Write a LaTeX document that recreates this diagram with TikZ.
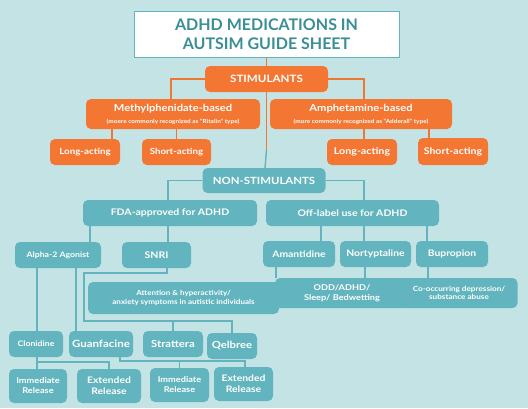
\documentclass[tikz,border=0pt]{standalone}
\usepackage{fontspec}
\setmainfont{Lato}
\newfontfamily\widefont{Lato}[FakeStretch=1.15, Ligatures=TeX]
\usetikzlibrary{positioning}
\definecolor{bgteal}{HTML}{C3E3E5}
\definecolor{orng}{HTML}{F47633}
\definecolor{tealbox}{HTML}{62B5BE}
\definecolor{titleteal}{HTML}{3A8E96}
\tikzstyle{obox} = [fill=orng, text=white, rounded corners=5pt, align=center, inner sep=0pt]
\tikzstyle{tbox} = [fill=tealbox, text=white, rounded corners=5pt, align=center, inner sep=0pt]
\tikzstyle{oline} = [draw=orng!90!brown, line width=1.4pt]
\tikzstyle{tline} = [draw=tealbox, line width=1.4pt]
\newcommand{\fsz}[1]{\widefont\fontsize{#1}{#1}\selectfont\bfseries}
\newcommand{\fsl}[2]{\widefont\fontsize{#1}{#2}\selectfont\bfseries}

\begin{document}
\begin{tikzpicture}[x=1pt, y=-1pt]
  \fill[bgteal] (0,0) rectangle (528,408);
  % title and stimulants
  \node[draw=tealbox, line width=1pt, fill=white, text=titleteal, align=center,
        minimum width=265pt, minimum height=46pt, font=\fontsize{16}{19}\selectfont\bfseries] (title) at (266.5,34) {ADHD MEDICATIONS IN\\AUTSIM GUIDE SHEET};
  \node[obox, minimum width=123pt, minimum height=26pt, font=\fsz{10.1}] (stim) at (266.5,79) {STIMULANTS};
  \node[obox, minimum width=174pt, minimum height=30pt] (methyl) at (173,114) {\fsz{9.7}Methylphenidate-based\\[0pt]\fsz{5.6}(moere commonly recognized as “Ritalin” type)};
  \node[obox, minimum width=182pt, minimum height=30pt] (amph) at (361,114) {\fsz{9.7}Amphetamine-based\\[0pt]\fsz{5.6}(more commonly recognized as “Adderall” type)};
  \node[obox, minimum width=70pt, minimum height=26pt, font=\fsz{8.5}] (longl) at (85,152) {Long-acting};
  \node[obox, minimum width=69pt, minimum height=26pt, font=\fsz{8.4}] (shortl) at (176.5,152) {Short-acting};
  \node[obox, minimum width=70pt, minimum height=26pt, font=\fsz{9.3}] (longr) at (362,152) {Long-acting};
  \node[obox, minimum width=70pt, minimum height=27pt, font=\fsz{9.2}] (shortr) at (453,151.5) {Short-acting};
  % non-stimulants
  \node[tbox, minimum width=123pt, minimum height=25pt, font=\fsz{9.9}] (nonstim) at (264,180.5) {NON-STIMULANTS};
  \node[tbox, minimum width=174pt, minimum height=26pt, font=\fsz{9.1}] (fda) at (170,213) {FDA-approved for ADHD};
  \node[tbox, minimum width=173pt, minimum height=26pt, font=\fsz{9.1}] (offlabel) at (352.5,213) {Off-label use for ADHD};
  \node[tbox, minimum width=86pt, minimum height=26pt, font=\fsz{7.6}] (alpha) at (58,255) {Alpha-2 Agonist};
  \node[tbox, minimum width=69pt, minimum height=26pt, font=\fsz{9.2}] (snri) at (156.5,255) {SNRI};
  \node[tbox, minimum width=72pt, minimum height=26pt, font=\fsz{9}] (amant) at (299,254) {Amantidine};
  \node[tbox, minimum width=71pt, minimum height=26pt, font=\fsz{9}] (nort) at (375.5,254) {Nortyptaline};
  \node[tbox, minimum width=72pt, minimum height=26pt, font=\fsz{9}] (bup) at (452,254) {Bupropion};
  \node[tbox, minimum width=134pt, minimum height=30pt, font=\fsl{8}{9.5}] (odd) at (342,293) {ODD/ADHD/\\Sleep/ Bedwetting};
  \node[tbox, minimum width=117pt, minimum height=30pt, font=\fsl{7.1}{8.5}] (cooc) at (459,293) {Co-occurring depression/\\substance abuse};
  \node[tbox, minimum width=191pt, minimum height=32pt, font=\fsl{7}{9.5}] (attn) at (183.5,298) {Attention \& hyperactivity/\\anxiety symptoms in autistic individuals};
  \node[tbox, minimum width=54pt, minimum height=26pt, font=\fsz{7.6}] (clon) at (36,344) {Clonidine};
  \node[tbox, minimum width=64pt, minimum height=26pt, font=\fsz{10}] (guan) at (101,344) {Guanfacine};
  \node[tbox, minimum width=60pt, minimum height=26pt, font=\fsz{9.8}] (strat) at (173,344) {Strattera};
  \node[tbox, minimum width=50pt, minimum height=26pt, font=\fsz{9.8}] (qel) at (232,346) {Qelbree};
  \node[tbox, minimum width=58pt, minimum height=34pt, font=\fsl{8}{10}] (imm1) at (38,386) {Immediate\\Release};
  \node[tbox, minimum width=64pt, minimum height=34pt, font=\fsl{9}{11}] (ext1) at (109,386) {Extended\\Release};
  \node[tbox, minimum width=59pt, minimum height=34pt, font=\fsl{8}{10}] (imm2) at (179.5,385) {Immediate\\Release};
  \node[tbox, minimum width=59pt, minimum height=34pt, font=\fsl{9}{11}] (ext2) at (243.5,384) {Extended\\Release};
  % elbows
  \coordinate (mid) at (266.5,150);
  \coordinate (snria) at (167,273);
  \coordinate (snrib) at (84,273);
  \coordinate (snric) at (84,321);
  \coordinate (snrid) at (232,321);
  \coordinate (clona) at (37,362);
  \coordinate (clonb) at (109,362);
  \coordinate (guana) at (120,361);
  \coordinate (guanb) at (245,361);
  % orange connectors
  \draw[oline] (title) -- (stim);
  \draw[oline] (stim.west) -| ([xshift=-2pt]methyl.north);
  \draw[oline] (stim.east) -| ([xshift=3pt]amph.north);
  \draw[oline] (stim) -- (mid);
  \draw[oline] ([xshift=27pt]longl.north) -- ([xshift=27pt]longl.north |- methyl.south);
  \draw[oline] (shortl) -- (shortl |- methyl.south);
  \draw[oline] ([xshift=2pt]longr.north) -- ([xshift=2pt]longr.north |- amph.south);
  \draw[oline] ([xshift=-24pt]shortr.north) -- ([xshift=-24pt]shortr.north |- amph.south);
  % teal connectors
  \draw[tline] (mid) -- (nonstim);
  \draw[tline] (nonstim.west) -| ([xshift=-2pt]fda.north);
  \draw[tline] (nonstim.east) -| ([xshift=11.5pt]offlabel.north);
  \draw[tline] ([xshift=32pt]alpha.north) -- ([xshift=32pt]alpha.north |- fda.south);
  \draw[tline] ([xshift=11.5pt]snri.north) -- ([xshift=11.5pt]snri.north |- fda.south);
  \draw[tline] ([xshift=22pt]amant.north) -- ([xshift=22pt]amant.north |- offlabel.south);
  \draw[tline] ([xshift=-11.5pt]nort.north) -- ([xshift=-11.5pt]nort.north |- offlabel.south);
  \draw[tline] ([xshift=-25pt]bup.north) -- ([xshift=-25pt]bup.north |- offlabel.south);
  \draw[tline] ([xshift=-23pt]amant.south) -- ([xshift=-23pt]amant.south |- odd.north);
  \draw[tline] ([xshift=-10.5pt]nort.south) -- ([xshift=-10.5pt]nort.south |- odd.north);
  \draw[tline] ([xshift=-24pt]bup.south) -- ([xshift=-24pt]bup.south |- cooc.north);
  \draw[tline] (snri.south -| snria) -- (snria) -- (snrib) -- (snric) -- (snrid) -- (qel);
  \draw[tline] (snric -| strat) -- (strat);
  \draw[tline] (alpha.south -| clona) -- (clon.north -| clona);
  \draw[tline] ([xshift=18pt]alpha.south) -- ([xshift=-25pt]guan.north);
  \draw[tline] (clon.south -| clona) -- (imm1.north -| clona);
  \draw[tline] (clona) -- (clonb) -- (ext1.north -| clonb);
  \draw[tline] (guan.south -| guana) -- (guana) -- (guanb) -- (ext2.north -| guanb);
  \draw[tline] (guana -| imm2) -- (imm2);
\end{tikzpicture}
\end{document}
